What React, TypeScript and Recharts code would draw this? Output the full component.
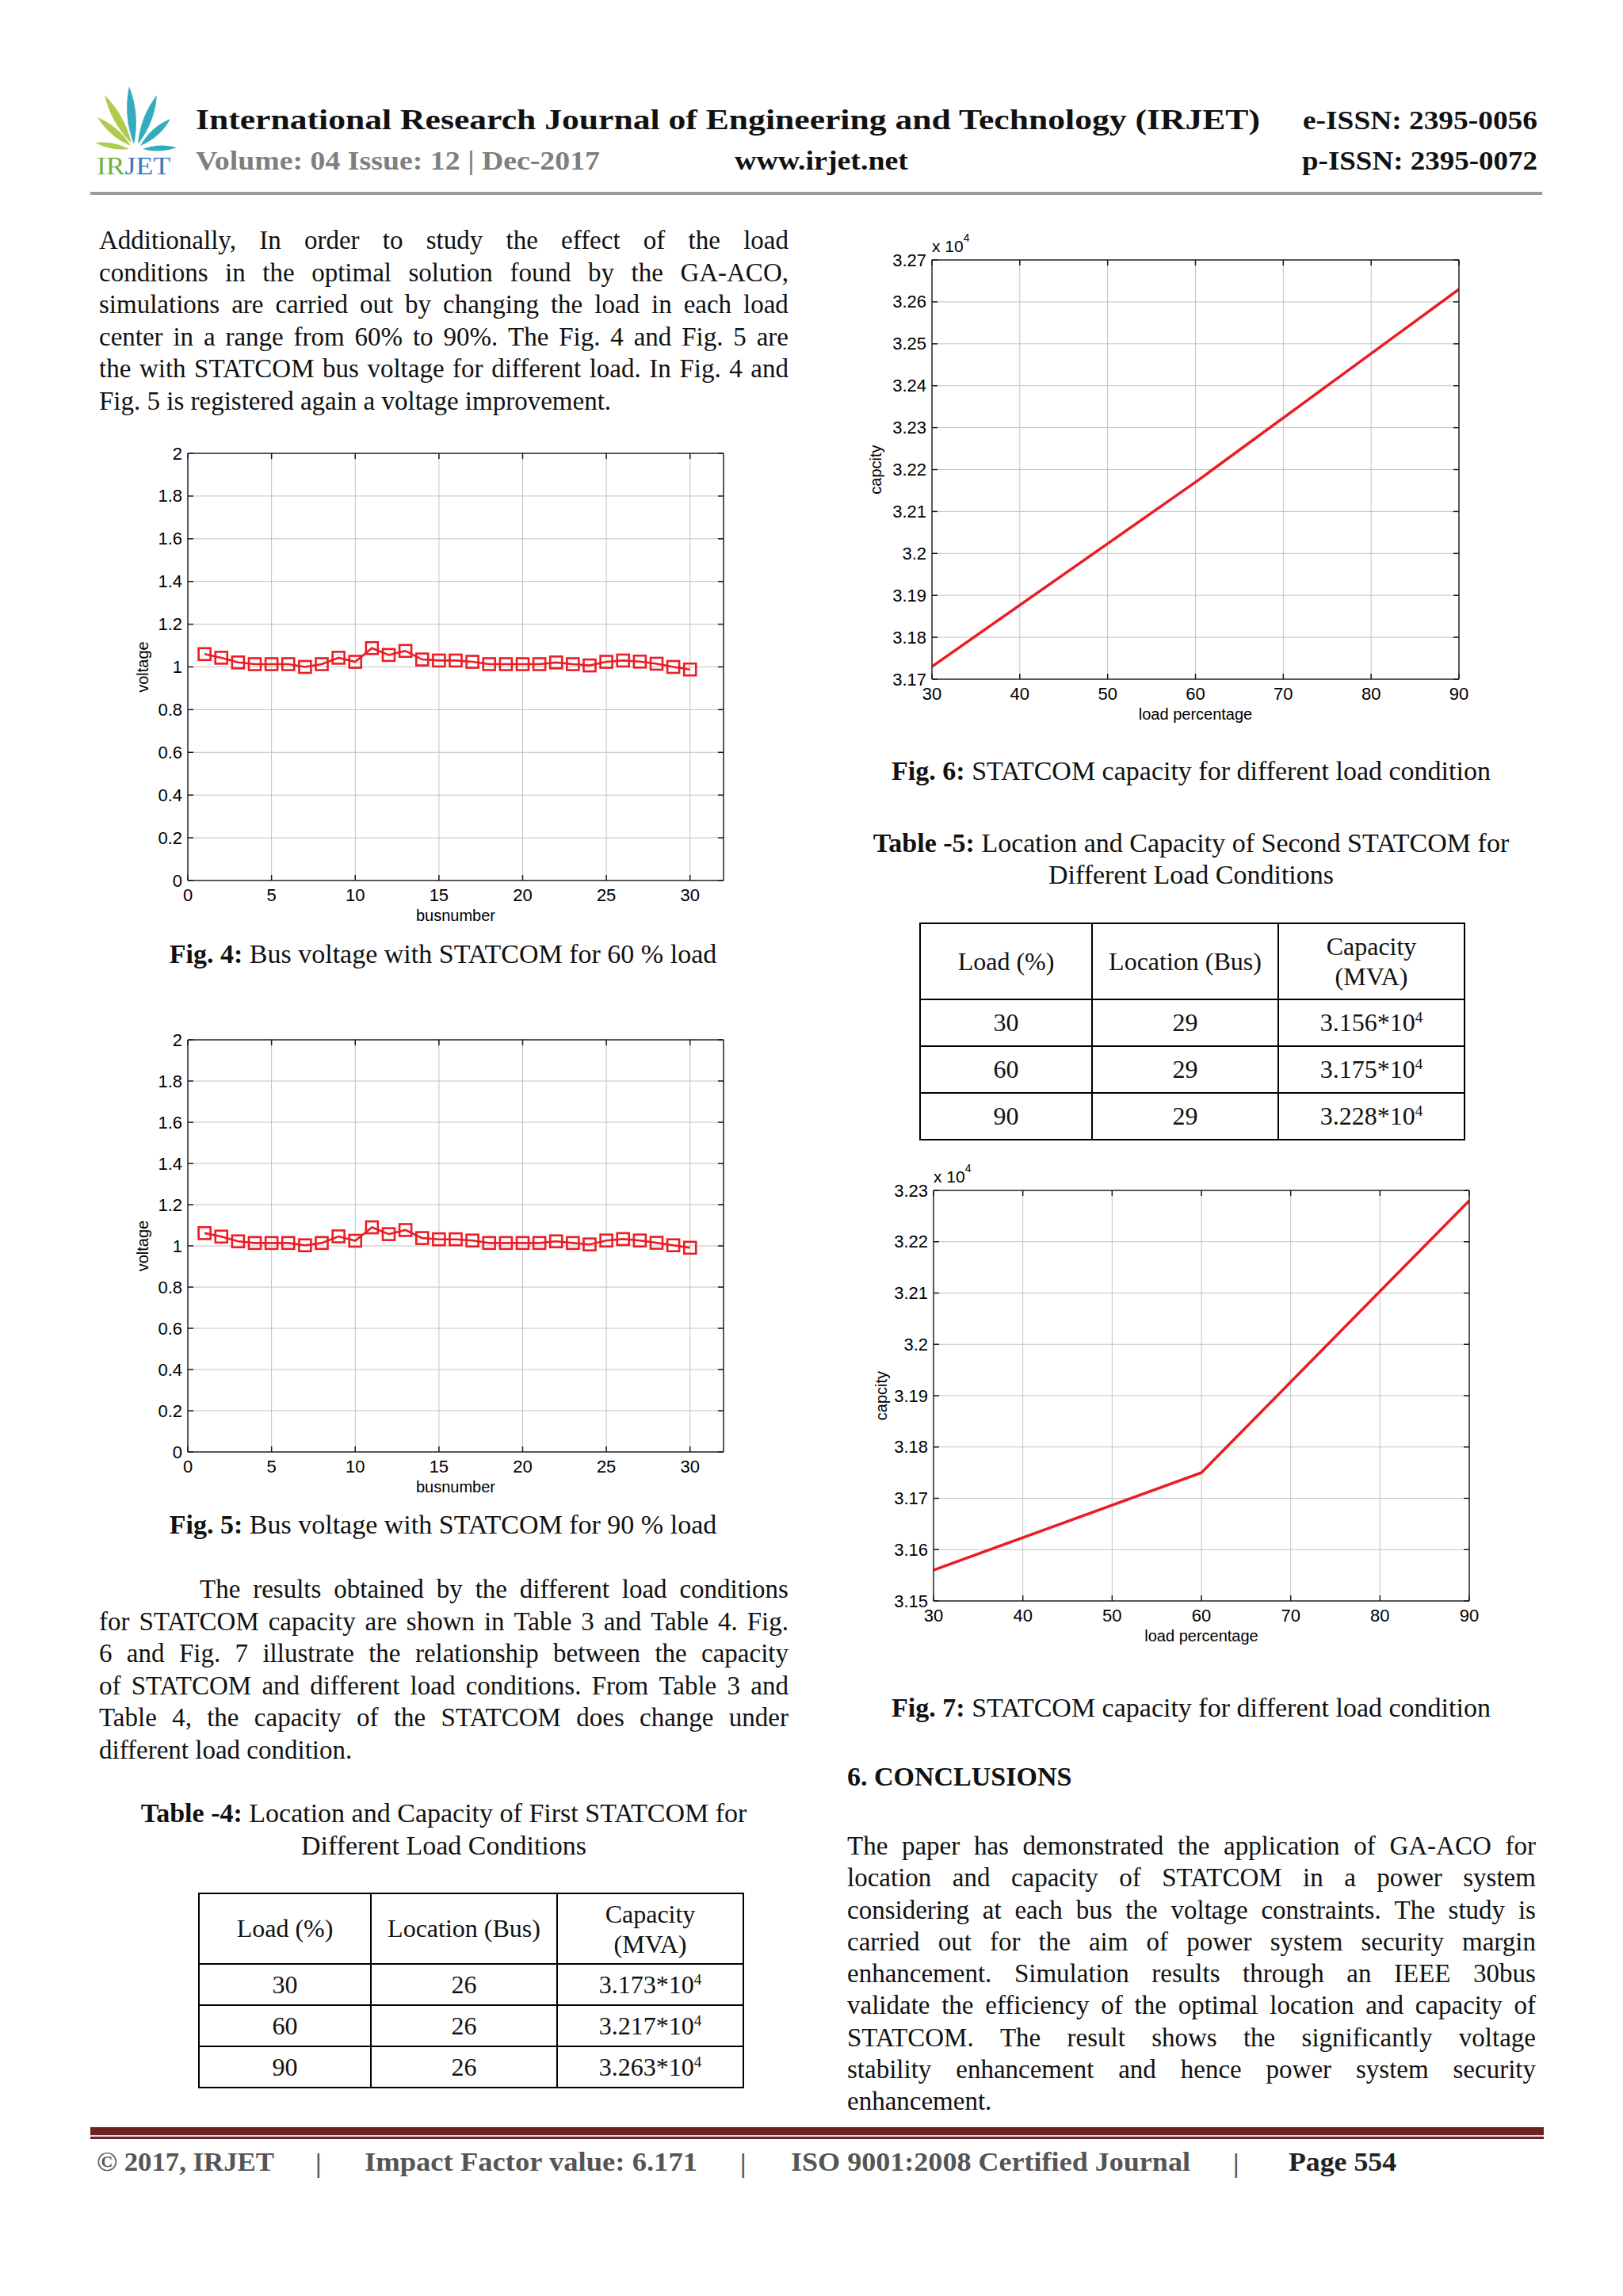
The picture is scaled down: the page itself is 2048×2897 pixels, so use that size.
import React from 'react';
import { LineChart, Line, XAxis, YAxis, CartesianGrid, Label } from 'recharts';

// ---- chart data ----
const busNumbers = [1, 2, 3, 4, 5, 6, 7, 8, 9, 10, 11, 12, 13, 14, 15, 16, 17, 18, 19, 20, 21, 22, 23, 24, 25, 26, 27, 28, 29, 30];
const voltage60 = [1.060, 1.043, 1.021, 1.013, 1.013, 1.013, 1.000, 1.013, 1.043, 1.024, 1.088, 1.056, 1.075, 1.035, 1.030, 1.030, 1.024, 1.013, 1.013, 1.013, 1.013, 1.021, 1.013, 1.007, 1.024, 1.030, 1.025, 1.015, 1.000, 0.988];
const voltage90 = [1.062, 1.045, 1.022, 1.014, 1.014, 1.014, 1.003, 1.014, 1.046, 1.025, 1.090, 1.057, 1.077, 1.038, 1.032, 1.032, 1.026, 1.014, 1.014, 1.014, 1.014, 1.022, 1.014, 1.007, 1.026, 1.033, 1.026, 1.015, 1.003, 0.991];
const busTicks = [0, 5, 10, 15, 20, 25, 30];
const voltageTicks = [0, 0.2, 0.4, 0.6, 0.8, 1, 1.2, 1.4, 1.6, 1.8, 2];

const loadPercent = [30, 60, 90];
const firstLocation = [26, 26, 26];
const firstCapacity = [31730, 32170, 32630]; // MVA
const secondLocation = [29, 29, 29];
const secondCapacity = [31560, 31750, 32280]; // MVA
const loadTicks = [30, 40, 50, 60, 70, 80, 90];
const firstCapTicks = [31700, 31800, 31900, 32000, 32100, 32200, 32300, 32400, 32500, 32600, 32700];
const secondCapTicks = [31500, 31600, 31700, 31800, 31900, 32000, 32100, 32200, 32300];

const fig4Data = busNumbers.map((bus, i) => ({ bus, voltage: voltage60[i] }));
const fig5Data = busNumbers.map((bus, i) => ({ bus, voltage: voltage90[i] }));
const fig6Data = loadPercent.map((load, i) => ({ load, capacity: firstCapacity[i] }));
const fig7Data = loadPercent.map((load, i) => ({ load, capacity: secondCapacity[i] }));

// ---- page text ----
const para1 = [
  'Additionally, In order to study the effect of the load',
  'conditions in the optimal solution found by the GA-ACO,',
  'simulations are carried out by changing the load in each load',
  'center in a range from 60% to 90%. The Fig. 4 and Fig. 5 are',
  'the with STATCOM bus voltage for different load. In Fig. 4 and',
  'Fig. 5 is registered again a voltage improvement.',
];
const para2 = [
  'The results obtained by the different load conditions',
  'for STATCOM capacity are shown in Table 3 and Table 4. Fig.',
  '6 and Fig. 7 illustrate the relationship between the capacity',
  'of STATCOM and different load conditions. From Table 3 and',
  'Table 4, the capacity of the STATCOM does change under',
  'different load condition.',
];
const conclusion = [
  'The paper has demonstrated the application of GA-ACO for',
  'location and capacity of STATCOM in a power system',
  'considering at each bus the voltage constraints. The study is',
  'carried out for the aim of power system security margin',
  'enhancement. Simulation results through an IEEE 30bus',
  'validate the efficiency of the optimal location and capacity of',
  'STATCOM. The result shows the significantly voltage',
  'stability enhancement and hence power system security',
  'enhancement.',
];

const SERIF = "'Liberation Serif', 'DejaVu Serif', serif";
const SANS = "'Liberation Sans', Arial, Helvetica, sans-serif";
const RED = '#ec1c24';
const INK = '#1a1a1a';
const FRAME = { stroke: '#2b2b2b', strokeWidth: 1.5 };

const fmtVolt = (v: number) => String(Number(v.toFixed(1)));
const fmtCap = (v: number) => String(Number((v / 1e4).toFixed(2)));

// ---- MATLAB-looking line plot ----
type Box = { left: number; top: number; width: number; height: number };
interface PlotProps {
  data: Record<string, number>[];
  xKey: string;
  yKey: string;
  box: Box;
  xDomain: [number, number];
  xTicks: number[];
  yDomain: [number, number];
  yTicks: number[];
  yFormat: (v: number) => string;
  xLabel: string;
  yLabel: string;
  yLabelGap: number;
  exponent?: boolean;
  markers?: boolean;
}

// space round the plot box; each axis takes 1px of it (axes of size 0 are not drawn)
const PAD = { top: 50, right: 30, bottom: 70, left: 110 };
const AX = 1;
const X_GAP = 18;
const Y_GAP = 7;
const TICK = 7;
const TICK_FONT = 22;

const MatlabPlot: React.FC<PlotProps> = (p) => {
  const { box } = p;
  const w = box.width + PAD.left + PAD.right;
  const h = box.height + PAD.top + PAD.bottom;
  const margin = { top: PAD.top - AX, right: PAD.right - AX, bottom: PAD.bottom - AX, left: PAD.left - AX };
  const plotTop = PAD.top;
  const plotRight = PAD.left + box.width;

  // inward tick marks on both opposite sides, MATLAB box style
  const bottomTick = ({ x, y, payload }: any) => (
    <g>
      <line x1={x} x2={x} y1={y - X_GAP} y2={y - X_GAP - TICK} stroke={INK} strokeWidth={1.5} />
      <line x1={x} x2={x} y1={plotTop} y2={plotTop + TICK} stroke={INK} strokeWidth={1.5} />
      <text x={x} y={y} textAnchor="middle" dominantBaseline="central" fontSize={TICK_FONT} fontFamily={SANS} fill="#000">
        {payload.value}
      </text>
    </g>
  );
  const leftTick = ({ x, y, payload }: any) => (
    <g>
      <line x1={x + Y_GAP} x2={x + Y_GAP + TICK} y1={y} y2={y} stroke={INK} strokeWidth={1.5} />
      <line x1={plotRight} x2={plotRight - TICK} y1={y} y2={y} stroke={INK} strokeWidth={1.5} />
      <text x={x} y={y} textAnchor="end" dominantBaseline="central" fontSize={TICK_FONT} fontFamily={SANS} fill="#000">
        {p.yFormat(payload.value)}
      </text>
    </g>
  );

  const squareDot = (d: any) => (
    <rect key={`sq-${d.index}`} x={d.cx - 7.5} y={d.cy - 7.5} width={15} height={15} fill="none" stroke={RED} strokeWidth={2.6} />
  );

  return (
    <div style={{ position: 'absolute', left: box.left - PAD.left, top: box.top - PAD.top }}>
      <LineChart width={w} height={h} data={p.data} margin={margin}>
        <CartesianGrid xAxisId="b" yAxisId="l" stroke="#c2c2c2" strokeWidth={1} />
        <XAxis
          xAxisId="b"
          dataKey={p.xKey}
          type="number"
          domain={p.xDomain}
          ticks={p.xTicks}
          allowDataOverflow
          interval={0}
          height={AX}
          tickSize={0}
          tickMargin={X_GAP}
          tickLine={false}
          axisLine={FRAME}
          tick={bottomTick}
        >
          <Label
            content={() => (
              <text x={PAD.left + box.width / 2} y={PAD.top + box.height + 44} textAnchor="middle" dominantBaseline="central" fontSize={20} fontFamily={SANS} fill="#000">
                {p.xLabel}
              </text>
            )}
          />
        </XAxis>
        <XAxis
          xAxisId="t"
          orientation="top"
          type="number"
          domain={p.xDomain}
          ticks={p.xTicks}
          allowDataOverflow
          height={AX}
          tickLine={false}
          tick={false}
          axisLine={FRAME}
        >
          {p.exponent && (
            <Label
              content={() => (
                <text x={PAD.left} y={PAD.top - 18} dominantBaseline="central" fontSize={21} fontFamily={SANS} fill="#000">
                  x 10
                  <tspan dy={-10} fontSize={14}>4</tspan>
                </text>
              )}
            />
          )}
        </XAxis>
        <YAxis
          yAxisId="l"
          type="number"
          domain={p.yDomain}
          ticks={p.yTicks}
          allowDataOverflow
          interval={0}
          width={AX}
          tickSize={0}
          tickMargin={Y_GAP}
          tickLine={false}
          axisLine={FRAME}
          tick={leftTick}
        >
          <Label
            content={() => {
              const cx = PAD.left - p.yLabelGap;
              const cy = PAD.top + box.height / 2;
              return (
                <text x={cx} y={cy} transform={`rotate(-90 ${cx} ${cy})`} textAnchor="middle" dominantBaseline="central" fontSize={20} fontFamily={SANS} fill="#000">
                  {p.yLabel}
                </text>
              );
            }}
          />
        </YAxis>
        <YAxis
          yAxisId="r"
          orientation="right"
          type="number"
          domain={p.yDomain}
          ticks={p.yTicks}
          allowDataOverflow
          width={AX}
          tickLine={false}
          tick={false}
          axisLine={FRAME}
        />
        <Line
          xAxisId="b"
          yAxisId="l"
          type="linear"
          dataKey={p.yKey}
          stroke={RED}
          strokeWidth={p.markers ? 2.6 : 3.5}
          dot={p.markers ? squareDot : false}
          activeDot={false}
          isAnimationActive={false}
        />
      </LineChart>
    </div>
  );
};

// ---- text helpers ----
const BodyLine = ({ text, x, y, width, last }: { text: string; x: number; y: number; width: number; last?: boolean }) => (
  <div
    style={{
      position: 'absolute',
      left: x,
      top: y - 21,
      width,
      height: 42,
      lineHeight: '42px',
      fontSize: 33,
      fontFamily: SERIF,
      whiteSpace: 'nowrap',
      display: last ? 'block' : 'flex',
      justifyContent: 'space-between',
      color: '#111',
    }}
  >
    {last ? text : text.split(' ').map((wd, i) => <span key={i}>{wd}</span>)}
  </div>
);

const Centered = ({ cx, y, bold, rest, size = 34 }: { cx: number; y: number; bold?: string; rest: string; size?: number }) => (
  <div
    style={{
      position: 'absolute',
      left: cx - 600,
      width: 1200,
      top: y - 22,
      height: 44,
      lineHeight: '44px',
      textAlign: 'center',
      fontSize: size,
      fontFamily: SERIF,
      whiteSpace: 'nowrap',
      color: '#111',
    }}
  >
    {bold && <b>{bold}</b>}
    {rest}
  </div>
);

interface TableProps {
  left: number;
  top: number;
  headHeight: number;
  rowHeight: number;
  loads: number[];
  locations: number[];
  capacities: number[];
}

const COLS = [217, 235, 235];

const DataTable = ({ left, top, headHeight, rowHeight, loads, locations, capacities }: TableProps) => {
  const cell: React.CSSProperties = { border: '2.5px solid #000', textAlign: 'center', padding: 0, verticalAlign: 'middle' };
  return (
    <table
      style={{
        position: 'absolute',
        left,
        top,
        borderCollapse: 'collapse',
        tableLayout: 'fixed',
        width: COLS[0] + COLS[1] + COLS[2],
        fontFamily: SERIF,
        fontSize: 32,
        color: '#111',
      }}
    >
      <colgroup>
        {COLS.map((cw, i) => (
          <col key={i} style={{ width: cw }} />
        ))}
      </colgroup>
      <tbody>
        <tr style={{ height: headHeight }}>
          <td style={cell}>Load (%)</td>
          <td style={cell}>Location (Bus)</td>
          <td style={{ ...cell, lineHeight: '38px' }}>
            Capacity
            <br />
            (MVA)
          </td>
        </tr>
        {loads.map((ld, i) => (
          <tr key={ld} style={{ height: rowHeight }}>
            <td style={cell}>{ld}</td>
            <td style={cell}>{locations[i]}</td>
            <td style={cell}>
              {(capacities[i] / 1e4).toFixed(3)}*10
              <span style={{ fontSize: 19, position: 'relative', top: -11 }}>4</span>
            </td>
          </tr>
        ))}
      </tbody>
    </table>
  );
};

// ---- header / footer ----
const leafPath = (bx: number, by: number, tx: number, ty: number, w: number) => {
  const mx = (bx + tx) / 2;
  const my = (by + ty) / 2;
  const len = Math.hypot(tx - bx, ty - by);
  const nx = (-(ty - by) / len) * w * 2;
  const ny = ((tx - bx) / len) * w * 2;
  return `M${bx},${by} Q${mx + nx},${my + ny} ${tx},${ty} Q${mx - nx},${my - ny} ${bx},${by}Z`;
};

const GREEN = '#a6c73c';
const TEAL = '#1ea3b6';
const leaves = [
  { b: [163, 188], t: [120, 180], w: 3.5, c: GREEN },
  { b: [165, 184], t: [123, 148], w: 4.5, c: GREEN },
  { b: [166, 181], t: [132, 120], w: 5, c: GREEN },
  { b: [169, 182], t: [163, 109], w: 5.5, c: TEAL },
  { b: [174, 182], t: [198, 120], w: 5, c: TEAL },
  { b: [177, 184], t: [215, 150], w: 4.5, c: TEAL },
  { b: [180, 188], t: [223, 186], w: 3.5, c: TEAL },
];

const PageFrame = () => (
  <svg width={2048} height={2897} style={{ position: 'absolute', left: 0, top: 0 }}>
    {leaves.map((lf, i) => (
      <path key={i} d={leafPath(lf.b[0], lf.b[1], lf.t[0], lf.t[1], lf.w)} fill={lf.c} opacity={0.9} />
    ))}
    <text x={122} y={220} fontFamily={SERIF} fontSize={32} textLength={93} lengthAdjust="spacingAndGlyphs">
      <tspan fill="#72b33e">IR</tspan>
      <tspan fill="#3a78c0">JET</tspan>
    </text>
    <g fontFamily={SERIF} fontWeight={700}>
      <text x={247} y={163} fontSize={36} fill="#111" textLength={1343} lengthAdjust="spacingAndGlyphs">
        International Research Journal of Engineering and Technology (IRJET)
      </text>
      <text x={1644} y={163} fontSize={34} fill="#111" textLength={296} lengthAdjust="spacingAndGlyphs">
        e-ISSN: 2395-0056
      </text>
      <text x={247} y={214} fontSize={34} fill="#7f7f7f" textLength={510} lengthAdjust="spacingAndGlyphs">
        Volume: 04 Issue: 12 | Dec-2017
      </text>
      <text x={927} y={214} fontSize={34} fill="#111" textLength={219} lengthAdjust="spacingAndGlyphs">
        www.irjet.net
      </text>
      <text x={1643} y={214} fontSize={34} fill="#111" textLength={297} lengthAdjust="spacingAndGlyphs">
        p-ISSN: 2395-0072
      </text>
    </g>
    <rect x={114} y={242} width={1832} height={4} fill="#9a9a9a" />

    <rect x={114} y={2684} width={1834} height={10} fill="#6b2424" />
    <rect x={114} y={2694} width={1834} height={2} fill="#ead4d4" />
    <rect x={114} y={2696} width={1834} height={3} fill="#6b2424" />
    <g fontFamily={SERIF} fontWeight={700} fontSize={34} fill="#555">
      <text x={122} y={2739} textLength={224} lengthAdjust="spacingAndGlyphs">© 2017, IRJET</text>
      <text x={398} y={2741}>|</text>
      <text x={460} y={2739} textLength={420} lengthAdjust="spacingAndGlyphs">Impact Factor value: 6.171</text>
      <text x={934} y={2741}>|</text>
      <text x={998} y={2739} textLength={504} lengthAdjust="spacingAndGlyphs">ISO 9001:2008 Certified Journal</text>
      <text x={1556} y={2741}>|</text>
      <text x={1626} y={2739} fill="#222" textLength={136} lengthAdjust="spacingAndGlyphs">Page 554</text>
    </g>
  </svg>
);

export default function App() {
  return (
    <div
      style={{
        position: 'absolute',
        left: 0,
        top: 0,
        width: 2048,
        height: 2897,
        background: '#fff',
        overflow: 'hidden',
        fontFamily: SERIF,
      }}
    >
      <PageFrame />

      {/* left column */}
      {para1.map((t, i) => (
        <BodyLine key={`p1-${i}`} text={t} x={125} y={303 + 40.5 * i} width={870} last={i === para1.length - 1} />
      ))}

      <MatlabPlot
        data={fig4Data}
        xKey="bus"
        yKey="voltage"
        box={{ left: 237, top: 572, width: 676, height: 539 }}
        xDomain={[0, 32]}
        xTicks={busTicks}
        yDomain={[0, 2]}
        yTicks={voltageTicks}
        yFormat={fmtVolt}
        xLabel="busnumber"
        yLabel="voltage"
        yLabelGap={57}
        markers
      />
      <Centered cx={559} y={1204} bold="Fig. 4:" rest=" Bus voltage with STATCOM for 60 % load" />

      <MatlabPlot
        data={fig5Data}
        xKey="bus"
        yKey="voltage"
        box={{ left: 237, top: 1312, width: 676, height: 520 }}
        xDomain={[0, 32]}
        xTicks={busTicks}
        yDomain={[0, 2]}
        yTicks={voltageTicks}
        yFormat={fmtVolt}
        xLabel="busnumber"
        yLabel="voltage"
        yLabelGap={57}
        markers
      />
      <Centered cx={559} y={1924} bold="Fig. 5:" rest=" Bus voltage with STATCOM for 90 % load" />

      {para2.map((t, i) => (
        <BodyLine
          key={`p2-${i}`}
          text={t}
          x={i === 0 ? 252 : 125}
          y={2005 + 40.5 * i}
          width={i === 0 ? 743 : 870}
          last={i === para2.length - 1}
        />
      ))}

      <Centered cx={560} y={2288} bold="Table -4:" rest=" Location and Capacity of First STATCOM for" />
      <Centered cx={560} y={2329} rest="Different Load Conditions" />
      <DataTable
        left={250}
        top={2388}
        headHeight={89}
        rowHeight={52}
        loads={loadPercent}
        locations={firstLocation}
        capacities={firstCapacity}
      />

      {/* right column */}
      <MatlabPlot
        data={fig6Data}
        xKey="load"
        yKey="capacity"
        box={{ left: 1176, top: 328, width: 665, height: 529 }}
        xDomain={[30, 90]}
        xTicks={loadTicks}
        yDomain={[31700, 32700]}
        yTicks={firstCapTicks}
        yFormat={fmtCap}
        xLabel="load percentage"
        yLabel="capcity"
        yLabelGap={71}
        exponent
      />
      <Centered cx={1503} y={973} bold="Fig. 6:" rest=" STATCOM capacity for different load condition" />

      <Centered cx={1503} y={1064} bold="Table -5:" rest=" Location and Capacity of Second STATCOM for" />
      <Centered cx={1503} y={1104} rest="Different Load Conditions" />
      <DataTable
        left={1160}
        top={1164}
        headHeight={96}
        rowHeight={59}
        loads={loadPercent}
        locations={secondLocation}
        capacities={secondCapacity}
      />

      <MatlabPlot
        data={fig7Data}
        xKey="load"
        yKey="capacity"
        box={{ left: 1178, top: 1502, width: 676, height: 518 }}
        xDomain={[30, 90]}
        xTicks={loadTicks}
        yDomain={[31500, 32300]}
        yTicks={secondCapTicks}
        yFormat={fmtCap}
        xLabel="load percentage"
        yLabel="capcity"
        yLabelGap={66}
        exponent
      />
      <Centered cx={1503} y={2155} bold="Fig. 7:" rest=" STATCOM capacity for different load condition" />

      <div
        style={{
          position: 'absolute',
          left: 1069,
          top: 2242 - 22,
          height: 44,
          lineHeight: '44px',
          fontSize: 34,
          fontWeight: 700,
          fontFamily: SERIF,
          color: '#111',
          whiteSpace: 'nowrap',
        }}
      >
        6. CONCLUSIONS
      </div>
      {conclusion.map((t, i) => (
        <BodyLine key={`c-${i}`} text={t} x={1069} y={2329 + 40.25 * i} width={869} last={i === conclusion.length - 1} />
      ))}
    </div>
  );
}
